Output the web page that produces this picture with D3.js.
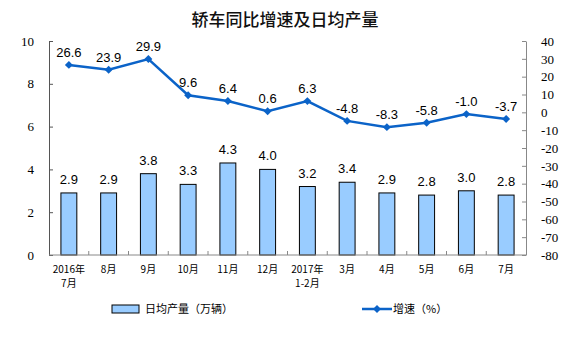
<!DOCTYPE html>
<html>
<head>
<meta charset="utf-8">
<script src="https://cdn.jsdelivr.net/npm/d3@7"></script>
<style>
  body { margin: 0; background: #fff; }
  svg { display: block; }
</style>
</head>
<body>
<script>
const months = ["2016年\n7月", "8月", "9月", "10月", "11月", "12月", "2017年\n1-2月", "3月", "4月", "5月", "6月", "7月"];
const dailyOutput = [2.9, 2.9, 3.8, 3.3, 4.3, 4.0, 3.2, 3.4, 2.9, 2.8, 3.0, 2.8];
const growth = [26.6, 23.9, 29.9, 9.6, 6.4, 0.6, 6.3, -4.8, -8.3, -5.8, -1.0, -3.7];
const leftTicks = [0, 2, 4, 6, 8, 10];
const rightTicks = [40, 30, 20, 10, 0, -10, -20, -30, -40, -50, -60, -70, -80];

const svgWidth = 565, svgHeight = 351;
const margin = {top: 41, right: 39, bottom: 96, left: 49};
const chartWidth = svgWidth - margin.left - margin.right;
const chartHeight = svgHeight - margin.top - margin.bottom;

const cjk = "'Noto Sans CJK SC', sans-serif";
const serif = "'Liberation Serif', 'Times New Roman', serif";
const sans = "'Liberation Sans', Arial, sans-serif";

const svg = d3.select("body").append("svg")
    .attr("width", svgWidth)
    .attr("height", svgHeight);

svg.append("text")
    .attr("x", 285).attr("y", 26)
    .attr("text-anchor", "middle")
    .attr("font-family", cjk)
    .attr("font-size", "17px")
    .attr("font-weight", 500)
    .attr("fill", "#111")
    .text("轿车同比增速及日均产量");

const g = svg.append("g").attr("transform", `translate(${margin.left},${margin.top})`);

// scales
const x = d3.scaleBand().domain(months).range([0, chartWidth]).paddingInner(0.6).paddingOuter(0.3);
const xCenter = d3.scaleBand().domain(months).range([0, chartWidth]);
const yLeft = d3.scaleLinear().domain([0, 10]).range([chartHeight, 0]);
const yRight = d3.scaleLinear().domain([-80, 40]).range([chartHeight, 0]);

// left axis
const axL = g.append("g")
    .call(d3.axisLeft(yLeft).tickValues(leftTicks).tickFormat(d => String(d))
        .tickSize(-4).tickSizeOuter(0).tickPadding(15));
axL.select(".domain").attr("stroke", "#555");
axL.selectAll(".tick line").attr("stroke", "#555");
axL.selectAll(".tick text").attr("font-family", serif).attr("font-size", "13px").attr("fill", "#000");

// right axis
const axR = g.append("g")
    .attr("transform", `translate(${chartWidth},0)`)
    .call(d3.axisRight(yRight).tickValues(rightTicks).tickFormat(d => String(d))
        .tickSize(-4).tickSizeOuter(0).tickPadding(15));
axR.select(".domain").attr("stroke", "#888");
axR.selectAll(".tick line").attr("stroke", "#888");
axR.selectAll(".tick text").attr("font-family", serif).attr("font-size", "13px").attr("fill", "#000");

// bars
g.selectAll(".bar")
    .data(dailyOutput)
    .join("rect")
    .attr("class", "bar")
    .attr("x", (d, i) => x(months[i]))
    .attr("y", d => yLeft(d))
    .attr("width", x.bandwidth())
    .attr("height", d => yLeft(0) - yLeft(d))
    .attr("fill", "#99ccff")
    .attr("stroke", "#000")
    .attr("stroke-width", 1);

g.selectAll(".barLabel")
    .data(dailyOutput)
    .join("text")
    .attr("x", (d, i) => x(months[i]) + x.bandwidth() / 2)
    .attr("y", d => yLeft(d) - 9)
    .attr("text-anchor", "middle")
    .attr("font-family", sans)
    .attr("font-size", "13px")
    .attr("fill", "#000")
    .text(d => d.toFixed(1));

// bottom axis: line + boundary ticks pointing up
const bottom = g.append("g").attr("transform", `translate(0,${chartHeight})`);
bottom.append("line")
    .attr("x1", 0).attr("x2", chartWidth)
    .attr("stroke", "#888");
bottom.selectAll(".bt")
    .data(months.slice(1))
    .join("line")
    .attr("x1", d => xCenter(d)).attr("x2", d => xCenter(d))
    .attr("y1", 0).attr("y2", -4)
    .attr("stroke", "#888");

const xl = bottom.selectAll(".xl")
    .data(months)
    .join("text")
    .attr("x", d => xCenter(d) + xCenter.bandwidth() / 2)
    .attr("y", 18)
    .attr("text-anchor", "middle")
    .attr("font-family", cjk)
    .attr("font-size", "10px")
    .attr("fill", "#000");
xl.each(function (d) {
    const parts = d.split("\n");
    const t = d3.select(this);
    parts.forEach((p, k) => {
        t.append("tspan")
            .attr("x", xCenter(d) + xCenter.bandwidth() / 2)
            .attr("dy", k === 0 ? 0 : 14)
            .text(p);
    });
});

// growth line
const lineColor = "#0b63c8";
const line = d3.line()
    .x((d, i) => xCenter(months[i]) + xCenter.bandwidth() / 2)
    .y(d => yRight(d));

g.append("path")
    .datum(growth)
    .attr("d", line)
    .attr("fill", "none")
    .attr("stroke", lineColor)
    .attr("stroke-width", 2.5);

const diamond = d3.symbol().type(d3.symbolDiamond2).size(40);
g.selectAll(".pt")
    .data(growth)
    .join("path")
    .attr("d", diamond)
    .attr("transform", (d, i) => `translate(${xCenter(months[i]) + xCenter.bandwidth() / 2},${yRight(d)})`)
    .attr("fill", lineColor);

g.selectAll(".lineLabel")
    .data(growth)
    .join("text")
    .attr("x", (d, i) => xCenter(months[i]) + xCenter.bandwidth() / 2)
    .attr("y", d => yRight(d) - 8)
    .attr("text-anchor", "middle")
    .attr("font-family", sans)
    .attr("font-size", "13px")
    .attr("fill", "#000")
    .text(d => d.toFixed(1));

// legend
const legend = svg.append("g").attr("transform", "translate(0,309)");
legend.append("rect")
    .attr("x", 112).attr("y", -4)
    .attr("width", 27).attr("height", 8)
    .attr("fill", "#99ccff").attr("stroke", "#000");
legend.append("text")
    .attr("x", 145).attr("y", 4)
    .attr("font-family", cjk).attr("font-size", "11px").attr("fill", "#000")
    .text("日均产量（万辆）");
legend.append("line")
    .attr("x1", 362).attr("x2", 392)
    .attr("stroke", lineColor).attr("stroke-width", 2.5);
legend.append("path")
    .attr("d", diamond)
    .attr("transform", "translate(377,0)")
    .attr("fill", lineColor);
legend.append("text")
    .attr("x", 393).attr("y", 4)
    .attr("font-family", cjk).attr("font-size", "11px").attr("fill", "#000")
    .text("增速（%）");
</script>
</body>
</html>
